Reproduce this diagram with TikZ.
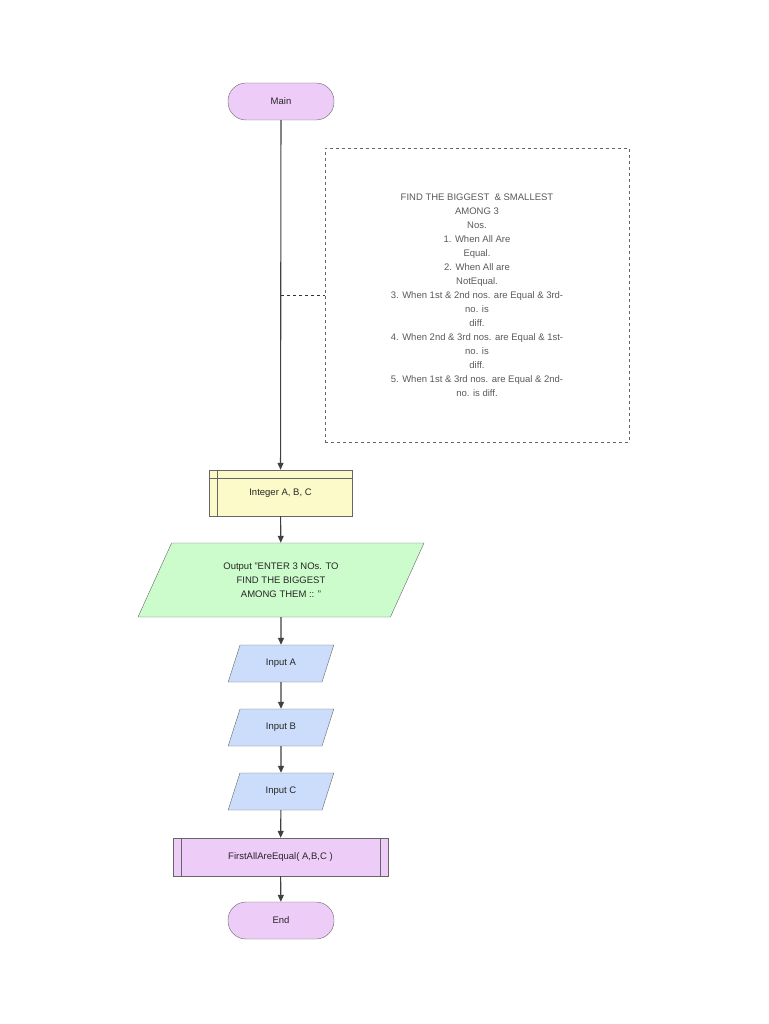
\documentclass[tikz,border=0pt]{standalone}
\usepackage{fontspec}
\setmainfont{Liberation Sans}
\usetikzlibrary{shapes.geometric,arrows.meta}
\definecolor{term}{HTML}{EECCF8}
\definecolor{decl}{HTML}{FCFAC8}
\definecolor{outp}{HTML}{CCFCCC}
\definecolor{inp}{HTML}{CCDDFC}
\begin{document}
\begin{tikzpicture}[x=1pt,y=-1pt,
  every node/.style={font=\fontsize{9.5}{14}\selectfont,text=black!85,align=center},
  term/.style={draw=black!60,fill=term,rounded corners=18pt,minimum width=106pt,minimum height=37pt,inner sep=0pt},
  para/.style={draw=black!60,shape=trapezium,trapezium left angle=63,trapezium right angle=117,trapezium stretches=true,inner sep=0pt},
  arr/.style={draw=black!75,line width=1.1pt,-{Triangle[length=7pt,width=6pt]}}]
\useasboundingbox (0,0) rectangle (768,1024);
\node[term] (main) at (281,101.5) {Main};
\node[draw=black!60,dashed,minimum width=304pt,minimum height=294pt,inner sep=0pt,text=black!65] (cmt) at (477,295) {FIND THE BIGGEST \ \& SMALLEST\\AMONG 3\\Nos.\\1. When All Are\\Equal.\\2. When All are\\NotEqual.\\3. When 1st \& 2nd nos. are Equal \& 3rd-\\no. is\\diff.\\4. When 2nd \& 3rd nos. are Equal \& 1st-\\no. is\\diff.\\5. When 1st \& 3rd nos. are Equal \& 2nd-\\no. is diff.};
\coordinate (tap) at (281,295);
\node[draw=black!60,fill=decl,minimum width=143pt,minimum height=46pt,inner sep=0pt] (int) at (280.5,493) {Integer A, B, C};
\draw[black!60] (209,478) -- (352,478) (217,470) -- (217,516);
\node[para,fill=outp,minimum width=286pt,minimum height=74pt] (out) at (281,580) {Output "ENTER 3 NOs. TO\\FIND THE BIGGEST\\AMONG THEM :: "};
\node[para,fill=inp,minimum width=106pt,minimum height=37pt] (ia) at (281,663.5) {Input A};
\node[para,fill=inp,minimum width=106pt,minimum height=37pt] (ib) at (281,727.5) {Input B};
\node[para,fill=inp,minimum width=106pt,minimum height=37pt] (ic) at (281,791.5) {Input C};
\node[draw=black!60,fill=term,minimum width=215pt,minimum height=38pt,inner sep=0pt] (fa) at (280.5,857) {FirstAllAreEqual( A,B,C )};
\draw[black!60] (181,838) -- (181,876) (380,838) -- (380,876);
\node[term] (end) at (281,920.5) {End};
\draw[arr] (main) -- (int);
\draw[black!80,dashed,line width=0.9pt] (tap) -- (cmt.west);
\draw[arr] (int) -- (out);
\draw[arr] (out) -- (ia);
\draw[arr] (ia) -- (ib);
\draw[arr] (ib) -- (ic);
\draw[arr] (ic) -- (fa);
\draw[arr] (fa) -- (end);
\end{tikzpicture}
\end{document}
